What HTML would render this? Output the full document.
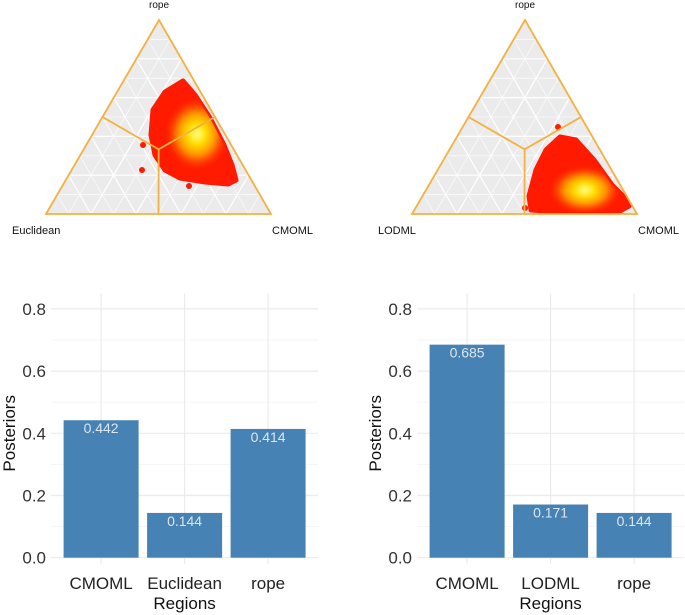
<!DOCTYPE html>
<html><head><meta charset="utf-8"><style>
body{margin:0;background:#fff;}
svg{display:block;font-family:"Liberation Sans",sans-serif;}
</style></head><body>
<svg id="root" width="685" height="615" viewBox="0 0 685 615">
<defs>
<radialGradient id="heat" cx="50%" cy="50%" r="50%">
<stop offset="0" stop-color="#ffffa0"/><stop offset="0.25" stop-color="#ffe600"/><stop offset="0.6" stop-color="#ff9000"/><stop offset="1" stop-color="#ff2a00" stop-opacity="0"/>
</radialGradient>
<filter id="soft"><feGaussianBlur stdDeviation="2"/></filter>
</defs>
<g id="tern"></g>
<g id="bars"></g>
</svg>
<script>
// ---- bar chart data ----
const leftCats = ["CMOML","Euclidean","rope"];
const leftVals = [0.442,0.144,0.414];
const rightCats = ["CMOML","LODML","rope"];
const rightVals = [0.685,0.171,0.144];
const yTicks = [0,0.2,0.4,0.6,0.8];
const yTickLabels = ["0.0","0.2","0.4","0.6","0.8"];
// ---- ternary data ----
const leftLabels = ["Euclidean","CMOML","rope"];
const rightLabels = ["LODML","CMOML","rope"];

const NS="http://www.w3.org/2000/svg";
function mk(tag,attrs,parent){const e=document.createElementNS(NS,tag);for(const k in attrs)e.setAttribute(k,attrs[k]);parent.appendChild(e);return e;}

// ---------- ternary ----------
const tern=document.getElementById('tern');
const defs=document.querySelector('defs');
function ternary(ox,labels,cloud,hot,outliers,name,id){
  const g=mk('g',{},tern);
  
  
  const L=[ox+46,214],R=[ox+271,214],T=[ox+159,20];
  mk('polygon',{points:`${L} ${R} ${T}`,fill:'#ebebeb'},g);
  const lerp=(a,b,t)=>[a[0]+(b[0]-a[0])*t,a[1]+(b[1]-a[1])*t];
  for(let i=1;i<10;i++){const t=i/10;const w=i%2?0.6:1.2;
    let a=lerp(L,T,t),b=lerp(R,T,t);mk('line',{x1:a[0],y1:a[1],x2:b[0],y2:b[1],stroke:'#fff','stroke-width':w},g);
    a=lerp(L,R,t);b=lerp(L,T,t);mk('line',{x1:a[0],y1:a[1],x2:b[0],y2:b[1],stroke:'#fff','stroke-width':w},g);
    a=lerp(L,R,t);b=lerp(R,T,1-t);mk('line',{x1:a[0],y1:a[1],x2:b[0],y2:b[1],stroke:'#fff','stroke-width':w},g);
  }
  const pts=cloud.map(p=>(p[0]+ox)+','+p[1]).join(' ');
  const cp=mk('clipPath',{id:id},defs);
  mk('polygon',{points:pts},cp);
  const cl=mk('g',{},g);
  
  
  mk('polygon',{points:pts,fill:'#ff1a00',stroke:'#ff1a00','stroke-width':5,'stroke-linejoin':'round'},cl);
  const hg=mk('g',{'clip-path':`url(#${id})`},cl);
  mk('ellipse',{cx:hot[0]+ox,cy:hot[1],rx:hot[2],ry:hot[3],fill:'url(#heat)',filter:'url(#soft)'},hg);
  outliers.forEach(p=>mk('circle',{cx:p[0]+ox,cy:p[1],r:3,fill:'#ff1a00'},cl));
  const C=[(L[0]+R[0]+T[0])/3,(L[1]+R[1]+T[1])/3];
  [lerp(L,R,.5),lerp(L,T,.5),lerp(R,T,.5)].forEach(m=>mk('line',{x1:C[0],y1:C[1],x2:m[0],y2:m[1],stroke:'#f5b041','stroke-width':1.8},g));
  mk('polygon',{points:`${L} ${R} ${T}`,fill:'none',stroke:'#f5b041','stroke-width':1.8},g);
  const t1=mk('text',{x:ox+12,y:234,'font-size':11,fill:'#111'},g);t1.textContent=labels[0];
  
  const t2=mk('text',{x:ox+313,y:234,'font-size':11,fill:'#111','text-anchor':'end'},g);t2.textContent=labels[1];
  
  const t3=mk('text',{x:ox+159,y:8,'font-size':10,fill:'#111','text-anchor':'middle'},g);t3.textContent=labels[2];
  
}
ternary(0,leftLabels,
 [[183,81],[195,95],[210,118],[224,145],[232,165],[236,180],[228,184],[205,182],[180,178],[165,170],[155,155],[151,135],[153,110],[165,92]],
 [197,134,32,36],[[143,145],[142,170],[189,186]],'ternary-plot-left','clipL');
ternary(366,rightLabels,
 [[194,137],[210,140],[228,160],[246,185],[259,198],[263,206],[254,211],[225,212],[195,212],[165,210],[163,196],[170,170],[180,150]],
 [219,190,36,24],[[192,127],[159,208]],'ternary-plot-right','clipR');

// ---------- bars ----------
const bars=document.getElementById('bars');
function barChart(ox,cats,vals,name){
  const g=mk('g',{},bars);
  
  
  const left=ox+51,step=83.5,y0=557.7,yk=311;
  const X=i=>left+(i+0.6)*step, Y=v=>y0-v*yk;
  const right=left+3.2*step;
  for(let v=0.1;v<0.8;v+=0.2) mk('line',{x1:left,x2:right,y1:Y(v),y2:Y(v),stroke:'#f3f3f3','stroke-width':0.8},g);
  yTicks.forEach((v,i)=>{
    mk('line',{x1:left,x2:right,y1:Y(v),y2:Y(v),stroke:'#ebebeb','stroke-width':1.2},g);
    const t=mk('text',{x:left-5,y:Y(v)+6,'font-size':17,fill:'#333','text-anchor':'end'},g);t.textContent=yTickLabels[i];
    
  });
  cats.forEach((c,i)=>{
    mk('line',{x1:X(i),x2:X(i),y1:Y(0.85),y2:y0+6,stroke:'#ebebeb','stroke-width':1.2},g);
    const r=mk('rect',{x:X(i)-37.5,y:Y(vals[i]),width:75,height:vals[i]*yk,fill:'#4682b4'},g);
    
    const vl=mk('text',{x:X(i),y:Y(vals[i])+13,'font-size':14,fill:'#dde6ee','text-anchor':'middle'},g);vl.textContent=vals[i].toFixed(3);
    
    const cl=mk('text',{x:X(i),y:589,'font-size':17,fill:'#222','text-anchor':'middle'},g);cl.textContent=c;
    
  });
  const xt=mk('text',{x:(left+right)/2,y:609,'font-size':17,fill:'#111','text-anchor':'middle'},g);xt.textContent='Regions';
  
  const yt=mk('text',{x:0,y:0,'font-size':17,fill:'#111','text-anchor':'middle',transform:`translate(${ox+15},${Y(0.4)}) rotate(-90)`},g);yt.textContent='Posteriors';
  
}
barChart(0,leftCats,leftVals,'bar-chart-left');
barChart(366,rightCats,rightVals,'bar-chart-right');
</script>
</body></html>
